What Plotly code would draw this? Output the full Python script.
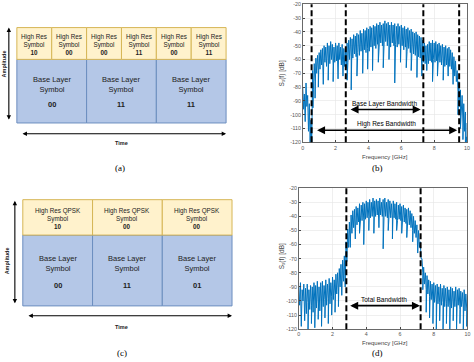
import plotly.graph_objects as go

# ---------------- data ----------------
FREQ = [round(i * 0.1, 1) for i in range(101)]

# (b) spectrum: upper and lower edges of the noisy band (dB)
UPPER_B = [-80, -85, -77, -86, -92, -104, -68, -63, -59, -57,
           -55, -53, -52, -50, -51, -48, -50, -47, -49, -51,
           -48, -50, -48, -51, -49, -52, -53, -48, -46, -44,
           -45, -42, -43, -41, -42, -39, -41, -38, -39, -37,
           -38, -36, -37, -35, -36, -34, -35, -33, -35, -34,
           -32, -34, -33, -35, -33, -35, -34, -36, -34, -36,
           -35, -37, -36, -38, -37, -39, -38, -40, -41, -40,
           -42, -43, -44, -46, -48, -50, -49, -47, -48, -46,
           -48, -47, -49, -48, -50, -49, -51, -50, -52, -51,
           -53, -55, -58, -61, -68, -76, -82, -86, -92, -98,
           -106]
LOWER_B = [-96, -102, -94, -106, -112, -118, -82, -76, -70, -68,
           -67, -64, -66, -62, -65, -61, -63, -60, -64, -62,
           -61, -63, -60, -64, -62, -65, -66, -62, -60, -58,
           -59, -56, -58, -55, -57, -54, -56, -53, -55, -52,
           -54, -51, -53, -50, -52, -49, -51, -48, -50, -49,
           -47, -50, -48, -51, -48, -50, -49, -51, -49, -52,
           -50, -53, -51, -54, -52, -55, -54, -56, -57, -56,
           -58, -59, -60, -62, -63, -65, -63, -61, -62, -60,
           -62, -61, -63, -62, -64, -63, -65, -64, -66, -65,
           -67, -69, -72, -76, -83, -94, -100, -106, -112, -116,
           -120]
DIP_F_B = [0.15, 0.35, 0.45, 0.55, 0.62, 0.75, 0.95, 1.25, 1.55, 1.85, 2.15, 2.45,
           2.7, 2.95, 3.3, 3.65, 3.95, 4.25, 4.6, 4.9, 5.25, 5.6, 5.95, 6.3, 6.6,
           6.95, 7.25, 7.55, 7.9, 8.2, 8.55, 8.85, 9.15, 9.45, 9.6, 9.75, 9.9]
DIP_DB_B = [-105, -112, -120, -120, -95, -88, -80, -78, -75, -76, -74, -72,
            -75, -82, -72, -70, -67, -68, -62, -66, -60, -77, -62, -66, -68,
            -73, -72, -68, -76, -72, -75, -72, -78, -100, -110, -118, -120]

# (d) spectrum
UPPER_D = [-90, -87, -92, -88, -91, -88, -92, -89, -90, -87,
           -89, -86, -90, -87, -86, -89, -85, -88, -84, -87,
           -83, -85, -81, -80, -77, -74, -71, -68, -58, -49,
           -44, -39, -36, -35, -33, -34, -31, -32, -30, -31,
           -29, -30, -28, -30, -27, -29, -28, -29, -27, -30,
           -28, -27, -30, -28, -29, -31, -29, -31, -30, -32,
           -31, -33, -32, -34, -35, -34, -36, -38, -40, -43,
           -46, -50, -58, -70, -76, -80, -82, -85, -86, -88,
           -87, -89, -88, -90, -88, -91, -89, -91, -90, -92,
           -90, -91, -93, -90, -92, -91, -93, -94, -92, -95,
           -96]
LOWER_D = [-103, -107, -100, -105, -109, -101, -106, -103, -108, -100,
           -105, -102, -107, -100, -104, -99, -103, -98, -102, -97,
           -99, -96, -95, -93, -90, -88, -86, -82, -72, -62,
           -56, -52, -48, -47, -46, -44, -44, -43, -42, -42,
           -41, -40, -41, -40, -39, -40, -39, -40, -39, -40,
           -41, -40, -41, -40, -41, -42, -41, -42, -43, -42,
           -43, -44, -44, -45, -46, -46, -48, -50, -52, -55,
           -58, -62, -70, -80, -88, -92, -95, -97, -99, -100,
           -101, -100, -102, -101, -103, -101, -104, -102, -104, -103,
           -105, -103, -104, -105, -103, -106, -104, -105, -107, -105,
           -108]
DIP_F_D = [0.15, 0.35, 0.55, 0.75, 0.95, 1.15, 1.35, 1.55, 1.75, 1.95, 2.15, 2.35,
           2.55, 2.75, 3.05, 3.35, 3.6, 3.85, 4.15, 4.45, 4.75, 5.0, 5.3, 5.55,
           5.8, 6.1, 6.4, 6.75, 7.05, 7.35, 7.55, 7.75, 7.95, 8.15, 8.35, 8.55,
           8.75, 8.95, 9.15, 9.35, 9.55, 9.75, 9.95]
DIP_DB_D = [-118, -114, -120, -116, -119, -113, -118, -112, -116, -110, -108, -104,
            -96, -90, -62, -56, -52, -60, -50, -52, -48, -63, -50, -56,
            -50, -52, -55, -58, -66, -92, -108, -112, -116, -120, -114, -120,
            -116, -120, -114, -120, -116, -120, -118]

# bandwidth markers
EDGES_B = [0.54, 2.62, 7.34, 9.52]
EDGES_D = [2.82, 7.22]
ARROWS_B = [("Base Layer Bandwidth", 2.82, 7.18, -96.2, -92.0),
            ("High Res Bandwidth", 0.78, 9.40, -111.2, -107.0)]
ARROWS_D = [("Total Bandwidth", 2.96, 7.18, -103.3, -99.2)]

Y_TICKS = [-120, -110, -100, -90, -80, -70, -60, -50, -40, -30, -20]
Y_TICK_TEXT = [str(v) for v in Y_TICKS]
X_TICKS = [0, 2, 4, 6, 8, 10]
X_TICK_TEXT = [str(v) for v in X_TICKS]

# diagrams
HIGH_RES_A = ["10", "00", "00", "11", "00", "11"]
BASE_A = ["00", "11", "11"]
HIGH_RES_C = ["10", "00", "00"]
BASE_C = ["00", "11", "01"]

# ---------------- styling ----------------
W, H = 474, 362
BLUE = "#0072BD"
YEL_FILL, YEL_LINE = "#FFF2CC", "#D6B656"
BAS_FILL, BAS_LINE = "#B4C7E7", "#6C8EBF"
SANS = "Liberation Sans, Arial, sans-serif"
SERIF = "Liberation Serif, Times New Roman, serif"
CENTER = dict(xanchor="center", yanchor="middle")


def px_x(p):
    return p / W


def px_y(p):
    return 1 - p / H


fig = go.Figure()


def spectrum(upper, lower, dip_f, dip_db, xa, ya):
    pts = [(f, u) for f, u in zip(FREQ, upper)]
    pts += [(round(f + 0.05, 3), l) for f, l in zip(FREQ[:-1], lower[:-1])]
    pts += [(FREQ[-1] - 0.01, lower[-1])]
    pts += list(zip(dip_f, dip_db))
    pts.sort(key=lambda t: t[0])
    fig.add_trace(go.Scatter(x=[p[0] for p in pts], y=[p[1] for p in pts],
                             mode="lines", line=dict(color=BLUE, width=1.0),
                             xaxis=xa, yaxis=ya, hoverinfo="skip", showlegend=False))


spectrum(UPPER_B, LOWER_B, DIP_F_B, DIP_DB_B, "x", "y")
spectrum(UPPER_D, LOWER_D, DIP_F_D, DIP_DB_D, "x2", "y2")

shapes = []
annotations = []

# dashed bandwidth edges
for xr, yr, edges in (("x", "y", EDGES_B), ("x2", "y2", EDGES_D)):
    for e in edges:
        shapes.append(dict(type="line", xref=xr, yref=yr + " domain", x0=e, x1=e, y0=0, y1=1,
                           line=dict(color="black", width=2, dash="6px,3px"), layer="above"))

for xr, yr, arrows in (("x", "y", ARROWS_B), ("x2", "y2", ARROWS_D)):
    for label, a, b, lvl, tl in arrows:
        annotations.append(dict(xref=xr, yref=yr, axref=xr, ayref=yr, x=b, y=lvl, ax=a, ay=lvl,
                                text="", showarrow=True, arrowhead=2, arrowside="end+start",
                                arrowsize=1, arrowwidth=1.6, arrowcolor="black",
                                standoff=0, startstandoff=0))
        annotations.append(dict(CENTER, xref=xr, yref=yr, x=(a + b) / 2, y=tl, text=label,
                                showarrow=False, font=dict(family=SANS, size=6.5, color="black")))

# axis titles for spectra
for ycen, ylab, xcen in ((157, 72, 283), (346, 258, 283)):
    annotations.append(dict(CENTER, xref="paper", yref="paper", x=px_x(387), y=px_y(ycen),
                            text="Frequency [GHz]", showarrow=False,
                            font=dict(family=SANS, size=6, color="#444")))
    annotations.append(dict(CENTER, xref="paper", yref="paper", x=px_x(xcen), y=px_y(ylab),
                            text="S<sub>x</sub>(f) [dB]", showarrow=False, textangle=-90,
                            font=dict(family=SANS, size=6.5, color="#444")))


# diagrams
def diagram(high, base, xr, yr, hr_label, hr_y, base_y, num_y, amp, time_y, amp_text, time_text):
    nh = len(high)
    nb = len(base)
    step = nh / nb
    for j, code in enumerate(base):
        shapes.append(dict(type="rect", xref=xr, yref=yr, x0=j * step, x1=(j + 1) * step, y0=0, y1=2,
                           fillcolor=BAS_FILL, line=dict(color=BAS_LINE, width=1), layer="below"))
        annotations.append(dict(CENTER, xref=xr, yref=yr, x=(j + 0.5) * step, y=base_y,
                                text="Base Layer<br>Symbol", showarrow=False,
                                font=dict(family=SANS, size=7.5, color="#222")))
        annotations.append(dict(CENTER, xref=xr, yref=yr, x=(j + 0.5) * step, y=num_y,
                                text="<b>" + code + "</b>", showarrow=False,
                                font=dict(family=SANS, size=7.5, color="#222")))
    for i, code in enumerate(high):
        shapes.append(dict(type="rect", xref=xr, yref=yr, x0=i, x1=i + 1, y0=2, y1=3,
                           fillcolor=YEL_FILL, line=dict(color=YEL_LINE, width=1), layer="below"))
        annotations.append(dict(CENTER, xref=xr, yref=yr, x=i + 0.5, y=hr_y,
                                text=hr_label + "<br>Symbol<br><b>" + code + "</b>", showarrow=False,
                                font=dict(family=SANS, size=6.3, color="#222")))
    ax_x, a_top, a_bot = amp
    annotations.append(dict(xref=xr, yref=yr, axref=xr, ayref=yr, x=ax_x, y=a_top, ax=ax_x, ay=a_bot,
                            text="", showarrow=True, arrowhead=2, arrowside="end+start",
                            arrowsize=0.8, arrowwidth=1.1, arrowcolor="black",
                            standoff=0, startstandoff=0))
    annotations.append(dict(xref=xr, yref=yr, axref=xr, ayref=yr, x=nh, y=time_y, ax=0.02 * nh, ay=time_y,
                            text="", showarrow=True, arrowhead=2, arrowside="end+start",
                            arrowsize=0.8, arrowwidth=1.1, arrowcolor="black",
                            standoff=0, startstandoff=0))
    tx, ty = amp_text
    annotations.append(dict(CENTER, xref=xr, yref=yr, x=tx, y=ty, text="<b>Amplitude</b>",
                            showarrow=False, textangle=-90,
                            font=dict(family=SANS, size=5.5, color="#222")))
    mx, my = time_text
    annotations.append(dict(CENTER, xref=xr, yref=yr, x=mx, y=my, text="<b>Time</b>", showarrow=False,
                            font=dict(family=SANS, size=5.5, color="#222")))


diagram(HIGH_RES_A, BASE_A, "x3", "y3", "High Res", 2.47, 1.22, 0.59,
        (-0.23, 3.0, 0.06), -0.34, (-0.38, 1.86), (3.0, -0.62))
diagram(HIGH_RES_C, BASE_C, "x4", "y4", "High Res QPSK", 2.47, 1.2, 0.59,
        (-0.114, 2.97, 0.03), -0.28, (-0.23, 1.28), (1.42, -0.61))

# captions
for lab, cx, cy in (("(a)", 120, 168), ("(b)", 380, 168), ("(c)", 122, 355.5), ("(d)", 380, 355.5)):
    annotations.append(dict(CENTER, xref="paper", yref="paper", x=px_x(cx), y=px_y(cy), text=lab,
                            showarrow=False, font=dict(family=SERIF, size=9, color="black")))


def spec_axes(xdom, ydom):
    xa = dict(domain=xdom, range=[0, 10], tickvals=X_TICKS, ticktext=X_TICK_TEXT,
              showgrid=True, gridcolor="#e4e4e4", gridwidth=0.6, zeroline=False,
              showline=True, mirror=True, linecolor="#444", linewidth=0.8,
              ticks="inside", ticklen=2, tickcolor="#444",
              tickfont=dict(family=SANS, size=5.3, color="#555"), fixedrange=True)
    ya = dict(domain=ydom, range=[-120, -20], tickvals=Y_TICKS, ticktext=Y_TICK_TEXT,
              showgrid=True, gridcolor="#e4e4e4", gridwidth=0.6, zeroline=False,
              showline=True, mirror=True, linecolor="#444", linewidth=0.8,
              ticks="inside", ticklen=2, tickcolor="#444",
              tickfont=dict(family=SANS, size=5.3, color="#555"), fixedrange=True)
    return xa, ya


xb, yb = spec_axes([px_x(304.3), px_x(470)], [px_y(141.7), px_y(1.3)])
xd, yd = spec_axes([px_x(300.3), px_x(470.5)], [px_y(331.7), px_y(188.3)])
xd["anchor"] = "y2"
yd["anchor"] = "x2"
xb["anchor"] = "y"
yb["anchor"] = "x"

hidden = dict(visible=False, showgrid=False, zeroline=False, fixedrange=True)

# diagram axes: boxes span x 16-227 px / y 25-122 px (a) and x 22-233 / y 200-308 (c);
# domains extended so that the side arrows and labels stay inside the axis ranges
XA_PX, XA_UNIT = 16, 211 / 6
YA_PX, YA_UNIT = 122, 97 / 3
XC_PX, XC_UNIT = 22, 211 / 3
YC_PX, YC_UNIT = 308, 108 / 3

fig.update_layout(
    width=W, height=H, margin=dict(l=0, r=0, t=0, b=0),
    paper_bgcolor="white", plot_bgcolor="white", showlegend=False,
    xaxis=xb, yaxis=yb, xaxis2=xd, yaxis2=yd,
    xaxis3=dict(hidden, domain=[0, px_x(237)], anchor="y3",
                range=[(0 - XA_PX) / XA_UNIT, (237 - XA_PX) / XA_UNIT]),
    yaxis3=dict(hidden, domain=[px_y(155), px_y(10)], anchor="x3",
                range=[(YA_PX - 155) / YA_UNIT, (YA_PX - 10) / YA_UNIT]),
    xaxis4=dict(hidden, domain=[0, px_x(240)], anchor="y4",
                range=[(0 - XC_PX) / XC_UNIT, (240 - XC_PX) / XC_UNIT]),
    yaxis4=dict(hidden, domain=[px_y(340), px_y(190)], anchor="x4",
                range=[(YC_PX - 340) / YC_UNIT, (YC_PX - 190) / YC_UNIT]),
    shapes=shapes, annotations=annotations,
)

# remove the default page margin so the figure sits at the window's top-left corner
fig.write_html("out.html",
               config=dict(displayModeBar=False, staticPlot=True),
               post_script="document.body.style.margin='0';document.body.style.overflow='hidden';")
